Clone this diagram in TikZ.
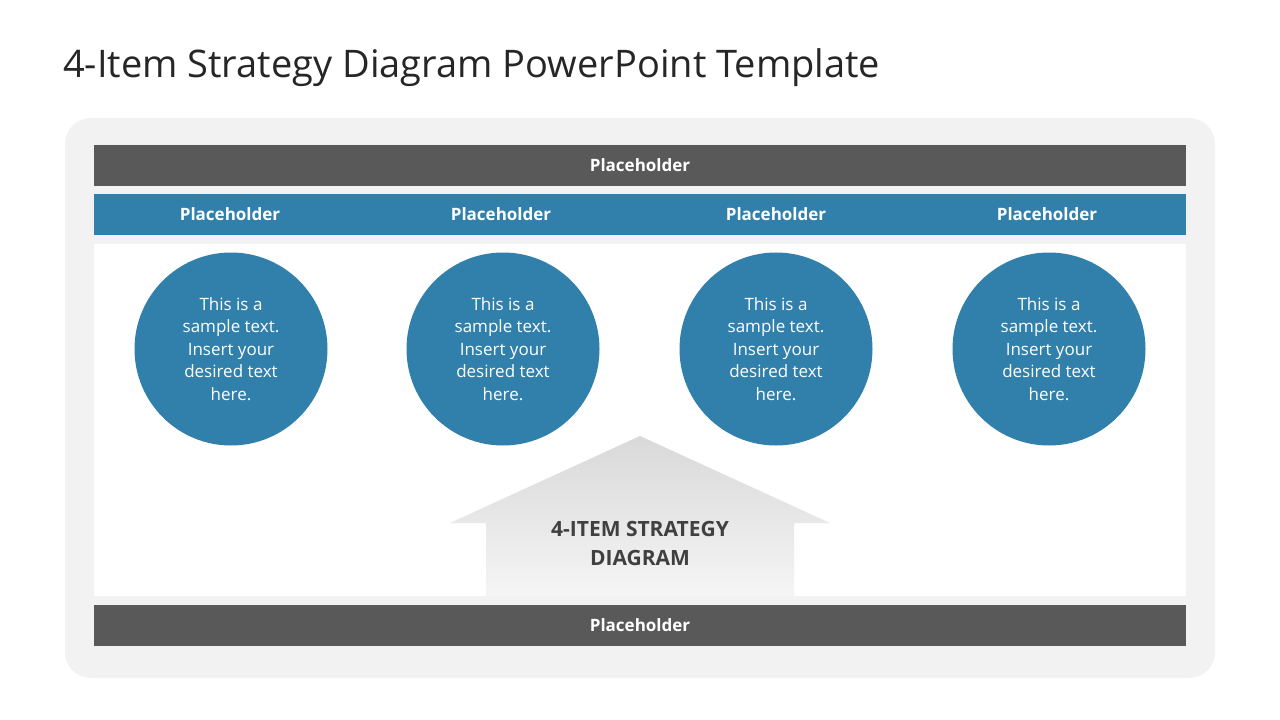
\documentclass[tikz,border=0pt]{standalone}
\usepackage{fontspec}
\setmainfont{Open Sans}
\begin{document}
\begin{tikzpicture}[x=1pt,y=-1pt,
  bar/.style={fill=barDark,draw=none,minimum width=1092pt,minimum height=41pt,inner sep=0pt,text=white,font=\bfseries\fontsize{17}{20}\selectfont},
  blab/.style={text=white,font=\bfseries\fontsize{17}{20}\selectfont},
  circ/.style={circle,fill=blueC,draw=none,minimum size=193pt,inner sep=0pt,text=white,align=center,font=\fontsize{17}{22.5}\selectfont}]
\definecolor{barDark}{RGB}{89,89,89}
\definecolor{blueC}{RGB}{49,128,172}
\definecolor{panel}{RGB}{242,242,242}
\definecolor{titleC}{RGB}{38,38,38}
\useasboundingbox (0,0) rectangle (1280,720);
\fill[white] (0,0) rectangle (1280,720);
\node[anchor=west,text=titleC,font=\fontsize{38}{44}\selectfont,inner sep=0pt] (title) at (63,68) {4-Item Strategy Diagram PowerPoint Template};
\fill[panel,rounded corners=26pt] (65,118) rectangle (1215,678);
\fill[white] (94,244) rectangle (1186,596);
\node[bar] (top) at (640,165.5) {Placeholder};
\fill[blueC] (94,194) rectangle (1186,235);
\foreach \x/\n in {230/a,501/b,776/c,1047/d}{\node[blab] (h\n) at (\x,214.5) {Placeholder};}
\foreach \x/\n in {231/a,503/b,776/c,1049/d}{\node[circ] (c\n) at (\x,349) {This is a\\sample text.\\Insert your\\desired text\\here.};}
\shade[top color=black!15,bottom color=black!4,draw=none]
  (640,436) -- (830,523) -- (794,523) -- (794,596) -- (486,596) -- (486,523) -- (450,523) -- cycle;
\node[align=center,text=black!75,font=\bfseries\fontsize{21}{29}\selectfont] (arr) at (640,543) {4-ITEM STRATEGY\\DIAGRAM};
\node[bar] (bot) at (640,625.5) {Placeholder};
\end{tikzpicture}
\end{document}
